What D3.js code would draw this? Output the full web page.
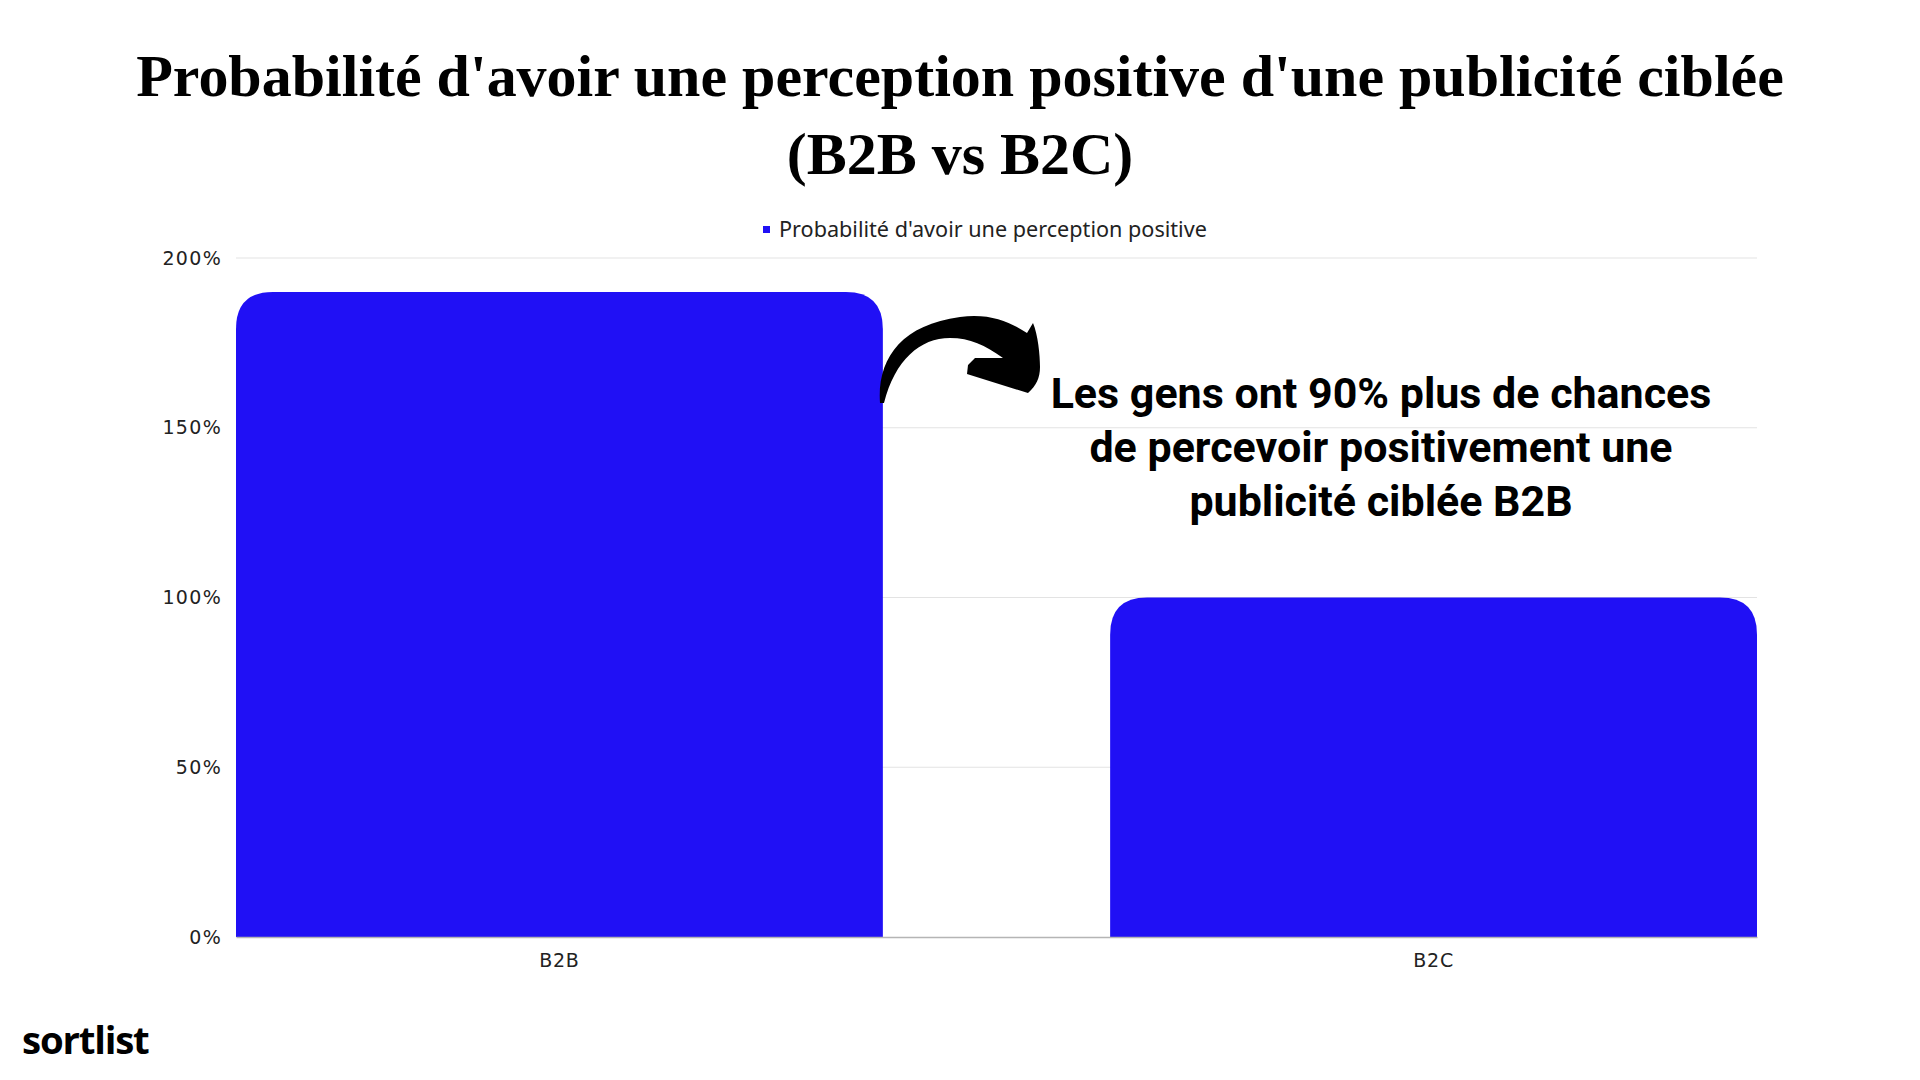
<!DOCTYPE html>
<html><head><meta charset="utf-8">
<script src="https://cdn.jsdelivr.net/npm/d3@7"></script>
<style>html,body{margin:0;padding:0;background:#fff;}svg{display:block;}</style>
</head><body>
<svg id="c" width="1920" height="1080"></svg>
<script>
const categories = ["B2B", "B2C"];
const values = [190, 100];
const yTicks = [0, 50, 100, 150, 200];
const seriesName = "Probabilité d'avoir une perception positive";
const titleLines = ["Probabilité d'avoir une perception positive d'une publicité ciblée", "(B2B vs B2C)"];
const noteLines = ["Les gens ont 90% plus de chances", "de percevoir positivement une", "publicité ciblée B2B"];

const svg = d3.select("#c");
const barColor = "#2010F5";
const m = {left: 236, right: 1757, top: 258, bottom: 937};

const x = d3.scaleBand().domain(categories).range([m.left, m.right]).paddingInner(0.26).paddingOuter(0);
const y = d3.scaleLinear().domain([0, 200]).range([m.bottom, m.top]);

function fit(sel, base, target) {
  const w = sel.node().getComputedTextLength();
  const f = base * target / w;
  sel.attr("font-size", f);
  return f;
}

// title
const title = svg.append("g").attr("font-family", "'Liberation Serif', 'DejaVu Serif', serif").attr("font-weight", 700).attr("text-anchor", "middle").attr("fill", "#000");
const t1 = title.append("text").attr("x", 960).attr("y", 96).attr("font-size", 60).text(titleLines[0]);
const fs = fit(t1, 60, 1648);
title.append("text").attr("x", 960).attr("y", 174).attr("font-size", fs).text(titleLines[1]);

// legend
const lg = svg.append("g");
lg.append("rect").attr("x", 763).attr("y", 226).attr("width", 7).attr("height", 7).attr("fill", barColor);
const lt = lg.append("text").attr("x", 779).attr("y", 237).attr("font-family", "'Noto Sans', sans-serif").attr("font-size", 20).attr("fill", "#222").text(seriesName);
fit(lt, 20, 428);

// grid
svg.append("g").selectAll("line").data(yTicks.filter(d => d > 0)).join("line")
  .attr("x1", m.left).attr("x2", m.right).attr("y1", d => y(d)).attr("y2", d => y(d))
  .attr("stroke", "#e3e3e3").attr("stroke-width", 1.2);

// y axis labels
const yAxis = d3.axisLeft(y).tickValues(yTicks).tickFormat(d => d + "%").tickSize(0).tickPadding(14);
const ya = svg.append("g").attr("transform", `translate(${m.left},0)`).call(yAxis);
ya.select(".domain").remove();
ya.selectAll("text").attr("font-family", "'DejaVu Sans', sans-serif").attr("font-size", 19).attr("letter-spacing", 1.3).attr("fill", "#222");

// bars with rounded top
const r = 37;
function barPath(d, i) {
  const x0 = x(categories[i]), x1 = x0 + x.bandwidth();
  const yt = y(d), yb = y(0);
  const rr = Math.min(r, (yb - yt));
  return `M${x0},${yb} L${x0},${yt + rr} Q${x0},${yt} ${x0 + rr},${yt} L${x1 - rr},${yt} Q${x1},${yt} ${x1},${yt + rr} L${x1},${yb} Z`;
}
svg.append("g").selectAll("path").data(values).join("path")
  .attr("d", (d, i) => barPath(d, i)).attr("fill", barColor);

// x axis
const xAxis = d3.axisBottom(x).tickSize(0).tickPadding(17);
const xa = svg.append("g").attr("transform", `translate(0,${m.bottom})`).call(xAxis);
xa.select(".domain").attr("stroke", "#b5b5b5").attr("stroke-width", 1.5);
xa.selectAll("text").attr("font-family", "'DejaVu Sans', sans-serif").attr("font-size", 19).attr("letter-spacing", 0.8).attr("fill", "#222");

// arrow
svg.append("path")
  .attr("d", "M880,403 C877,360 900,325 960,317 C990,313 1010,322 1027,333 L1033,323 C1038,335 1040,355 1040,367 C1040,378 1036,386 1028,393 L967,374 L968,365 L975,358 L1003,358 C985,345 970,338 950,338 C920,338 895,360 884,403 Z")
  .attr("fill", "#000");

// annotation
const note = svg.append("g").attr("font-family", "Roboto, 'Inter', sans-serif").attr("font-weight", 700).attr("text-anchor", "middle").attr("fill", "#000");
const n1 = note.append("text").attr("x", 1381).attr("y", 408).attr("font-size", 40).text(noteLines[0]);
const nfs = fit(n1, 40, 661);
note.append("text").attr("x", 1381).attr("y", 462).attr("font-size", nfs).text(noteLines[1]);
note.append("text").attr("x", 1381).attr("y", 516).attr("font-size", nfs).text(noteLines[2]);

// logo
const logo = svg.append("text").attr("x", 22).attr("y", 1054).attr("font-family", "'Open Sans', sans-serif").attr("font-weight", 700)
  .attr("font-size", 40).attr("letter-spacing", -1.2).attr("fill", "#000").text("sortlist");
fit(logo, 40, 127);
</script>
</body></html>
